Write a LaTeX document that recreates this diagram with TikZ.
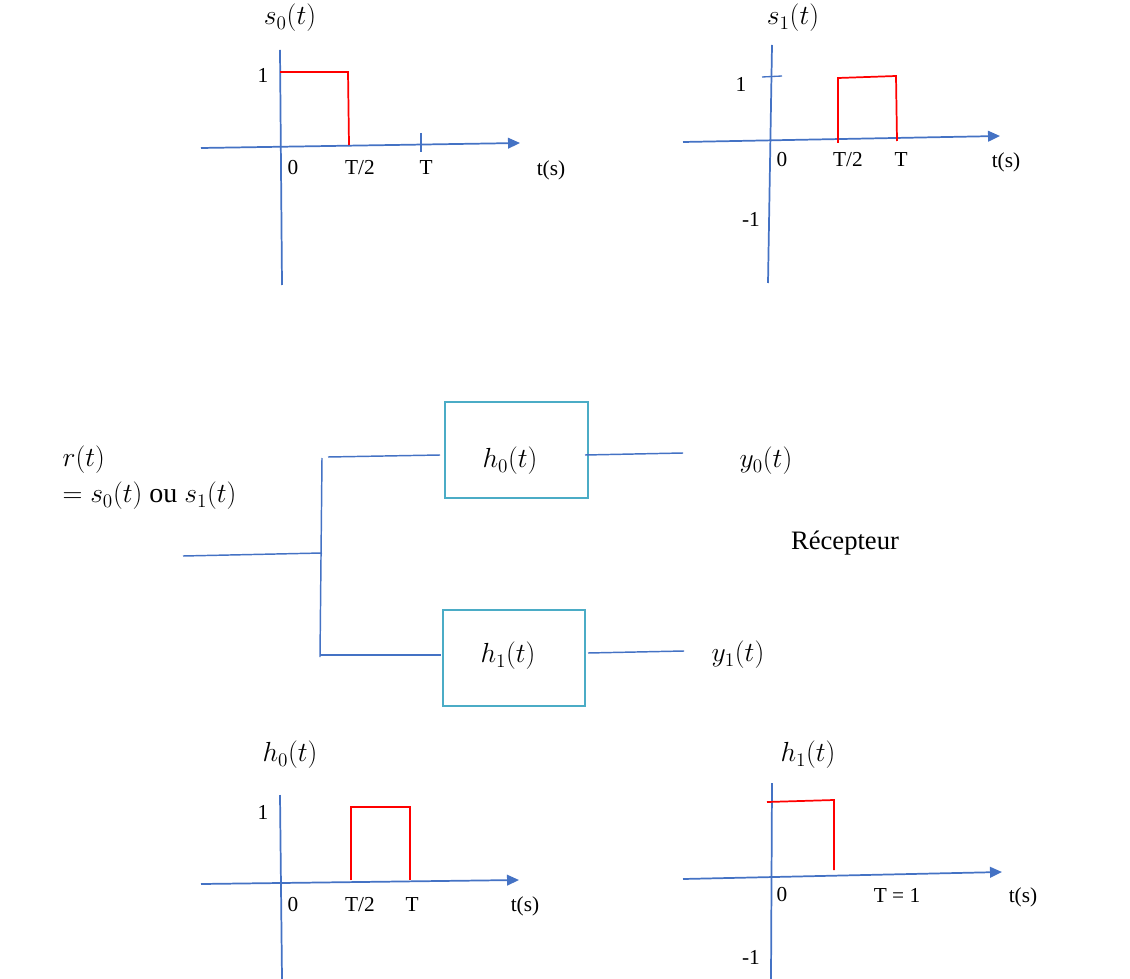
\documentclass[tikz,border=0pt]{standalone}
\usepackage{fontspec}
\setmainfont{Liberation Serif}
\usetikzlibrary{arrows.meta}
\definecolor{ax}{RGB}{68,114,196}
\definecolor{bx}{RGB}{75,172,198}
\tikzset{axis/.style={ax,line width=1.3pt},arr/.style={axis,-{Triangle[length=9pt,width=8pt]}},
sig/.style={red,line width=1.3pt},lbl/.style={font=\fontsize{16}{18}\selectfont},
ttl/.style={font=\fontsize{21}{23}\selectfont},box/.style={draw=bx,line width=0.9pt}}
\begin{document}
\begin{tikzpicture}[x={(0.0264cm,0)},y={(0,-0.0264cm)}]
\useasboundingbox (0,0) rectangle (1130,979);
% plot 1
\draw[arr] (201,148) -- (520,143);
\draw[axis] (280,50) -- (282,285);
\draw[sig] (280,72) -- (348,72) -- (349,145);
\draw[axis,line width=1pt] (421,133) -- (421,152);
\node[lbl] at (263,75) {1}; \node[lbl] at (293,168) {0}; \node[lbl] at (360,168) {T/2};
\node[lbl] at (426,168) {T}; \node[lbl] at (551,170) {t(s)};
\node[ttl] at (290,18) {$s_0(t)$};
% plot 2
\draw[arr] (683,142) -- (1000,136);
\draw[axis] (772,45) -- (768,283);
\draw[axis,line width=1pt] (762,77) -- (782,76);
\draw[sig] (838,143) -- (838,78) -- (896,76) -- (897,141);
\node[lbl] at (741,84) {1}; \node[lbl] at (782,160) {0}; \node[lbl] at (848,160) {T/2};
\node[lbl] at (901,160) {T}; \node[lbl] at (1006,162) {t(s)}; \node[lbl] at (751,219) {-1};
\node[ttl] at (793,18) {$s_1(t)$};
% block diagram
\node[box,minimum width=143*0.0264cm,minimum height=96*0.0264cm] (h0) at (516.5,450) {};
\node[box,minimum width=142*0.0264cm,minimum height=96*0.0264cm] (h1) at (514,658) {};
\node[ttl] at (510,461) {$h_0(t)$};
\node[ttl] at (508,656) {$h_1(t)$};
\coordinate (in) at (183,556); \coordinate (j) at (322,553);
\coordinate (t) at (322,458); \coordinate (b) at (320,657);
\draw[axis,line width=1.1pt] (in) -- (j) (t) -- (b);
\draw[axis,line width=1.1pt] (328,457) -- (440,455);
\draw[axis,line width=1.1pt] (320,655) -- (441,655);
\node[ttl] (y0) at (766,461) {$y_0(t)$};
\node[ttl] (y1) at (738,655) {$y_1(t)$};
\draw[axis,line width=1.1pt] (585,455) -- (683,453);
\draw[axis,line width=1.1pt] (588,653) -- (684,651);
\node[font=\fontsize{20}{22}\selectfont] at (845,543) {Récepteur};
\node[ttl,anchor=west] at (58,460) {$r(t)$};
\node[ttl,anchor=west] at (58,496) {$=s_0(t)$ ou $s_1(t)$};
% plot 3
\draw[arr] (201,884) -- (519,880);
\draw[axis] (280,795) -- (282,979);
\draw[sig] (351,880) -- (351,807) -- (410,807) -- (410,880);
\node[lbl] at (263,812) {1}; \node[lbl] at (293,905) {0}; \node[lbl] at (360,905) {T/2};
\node[lbl] at (412,905) {T}; \node[lbl] at (525,906) {t(s)};
\node[ttl] at (290,755) {$h_0(t)$};
% plot 4
\draw[arr] (683,879) -- (1002,872);
\draw[axis] (772,783) -- (771,979);
\draw[sig] (767,802) -- (834,800) -- (834,870);
\node[lbl] at (782,895) {0}; \node[lbl] at (897,895) {T = 1};
\node[lbl] at (1023,897) {t(s)}; \node[lbl] at (751,957) {-1};
\node[ttl] at (808,755) {$h_1(t)$};
\end{tikzpicture}
\end{document}
